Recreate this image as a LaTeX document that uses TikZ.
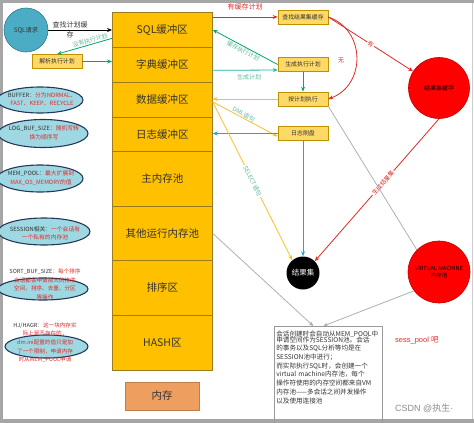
\documentclass[tikz,border=0pt]{standalone}
\usepackage{fontspec}
\setmainfont{Noto Sans CJK SC}
\newfontfamily\latsans{Liberation Sans}
\usetikzlibrary{arrows.meta,shapes.geometric}
\definecolor{memf}{HTML}{FFC000}
\definecolor{memb}{HTML}{9C7A1E}
\definecolor{boxf}{HTML}{FFD966}
\definecolor{boxb}{HTML}{BF9000}
\definecolor{neicun}{HTML}{EE9E5E}
\definecolor{reqc}{HTML}{4BACC6}
\definecolor{ellf}{HTML}{9ED8E2}
\definecolor{ellb}{HTML}{23395B}
\definecolor{rd}{HTML}{E02A2A}
\definecolor{circr}{HTML}{FF0000}
\definecolor{circb}{HTML}{C00000}
\definecolor{grn}{HTML}{00A862}
\definecolor{teal}{HTML}{1FB2A0}
\definecolor{lbl}{HTML}{5FB8A0}
\definecolor{yel}{HTML}{F2C230}
\definecolor{blu}{HTML}{1CA7DC}
\definecolor{gry}{HTML}{B0B0B0}
\definecolor{dk}{HTML}{333333}
\newcommand\myfs[2]{\fontsize{#1}{#2}\selectfont}
\tikzset{
  mem/.style={draw=memb, line width=0.7pt, fill=memf, minimum width=100pt, anchor=north west, inner sep=0pt, font=\myfs{10.5}{12}, text=dk},
  sbox/.style={draw=boxb, line width=0.6pt, fill=boxf, minimum width=50pt, minimum height=14pt, inner sep=0pt, font=\myfs{5.9}{7}, text=dk},
  ell/.style={ellipse, draw=ellb, line width=1.1pt, fill=ellf, inner sep=0pt},
  etxt/.style={align=center, text=rd, inner sep=0pt},
  arr/.style={line width=0.8pt, -{Stealth[length=5pt,width=4pt]}},
  lab/.style={font=\myfs{6}{7}, inner sep=1pt},
}
\begin{document}
\begin{tikzpicture}[x=1pt,y=-1pt]
\useasboundingbox (0,0) rectangle (474,423);
\fill[white] (0,0) rectangle (474,423);
% frame
\fill[gray!70] (0,0) rectangle (474,3);
\fill[gray!70] (0,0) rectangle (3,423);
\fill[gray!70] (0,419) rectangle (474,423);
\draw[gray!40, line width=0.6pt] (472,3) -- (472,419);

% memory column
\node[mem, minimum height=35pt] (sql) at (112,12) {SQL缓冲区};
\node[mem, minimum height=35pt] (dict) at (112,47) {字典缓冲区};
\node[mem, minimum height=35pt] (data) at (112,82) {数据缓冲区};
\node[mem, minimum height=34pt] (log) at (112,117) {日志缓冲区};
\node[mem, minimum height=55pt] (main) at (112,151) {主内存池};
\node[mem, minimum height=54pt] (other) at (112,206) {其他运行内存池};
\node[mem, minimum height=55pt] (sort) at (112,260) {排序区};
\node[mem, minimum height=55pt] (hash) at (112,315) {HASH区};
\node[draw=neicun!80!black, line width=0.4pt, fill=neicun, minimum width=74pt, minimum height=28pt, inner sep=0pt, font=\myfs{10.5}{12}, text=dk] (nc) at (162,396) {内存};

% request
\node[circle, draw=reqc!70!black, line width=0.6pt, fill=reqc, minimum size=44pt, inner sep=0pt, font=\myfs{6.3}{7}, text=dk] (req) at (26,30) {SQL请求};

% small boxes
\node[sbox] (parse) at (57,61.5) {解析执行计划};
\node[sbox] (findres) at (303,17) {查找结果集缓存};
\node[sbox] (gen) at (303,64.5) {生成执行计划};
\node[sbox] (exec) at (303,99) {按计划执行};
\node[sbox] (flush) at (303,133.5) {日志刷盘};

% circles
\node[circle, draw=circb, line width=0.6pt, fill=circr, minimum size=61pt, inner sep=0pt, font=\myfs{6}{7}, text=black] (rescache) at (439,88) {结果集缓存};
\node[circle, draw=circb, line width=0.6pt, fill=circr, minimum size=62pt, inner sep=0pt, align=center, font=\myfs{5.6}{7}, text=black] (vm) at (439,272) {VIRTUAL MACHINE\\内存池};
\node[circle, fill=black, minimum size=33pt, inner sep=0pt, font=\myfs{7.5}{8}, text=white] (res) at (303,273) {结果集};

% text box
\node[draw=gray!80, line width=0.6pt, anchor=north west, minimum width=108pt, minimum height=100pt, text width=104pt, inner sep=2pt, align=left, font=\myfs{6.6}{8.7}, text=dk] (tb) at (274,326) {\vspace*{-3pt}会话创建时会自动从MEM\_POOL中\\申请空间作为SESSION池。会话\\的事务以及SQL分析等均是在\\SESSION池中进行；\\而实际执行SQL时，会创建一个\\virtual machine内存池，每个\\操作符使用的内存空间都来自VM\\内存池——多会话之间并发操作\\以及使用连接池\vspace*{18pt}};

% ellipses
\node[ell, minimum width=86pt, minimum height=26pt] (e1) at (40,100) {};
\node[ell, minimum width=90pt, minimum height=28pt] (e2) at (43,133.5) {};
\node[ell, minimum width=86pt, minimum height=27pt] (e3) at (40,178.5) {};
\node[ell, minimum width=92pt, minimum height=27pt] (e4) at (44,231.5) {};
\node[ell, minimum width=90pt, minimum height=22pt] (e5) at (43,289) {};
\node[ell, minimum width=83pt, minimum height=23pt] (e6) at (46.5,346.5) {};
\node[etxt, font=\myfs{5.8}{8.5}] (t1) at (42,99) {\textcolor{dk}{BUFFER：}分为NORMAL、\\FAST、KEEP、RECYCLE};
\node[etxt, font=\myfs{5.8}{8.5}] (t2) at (44,133) {\textcolor{dk}{LOG\_BUF\_SIZE：}随机写转\\换为顺序写};
\node[etxt, font=\myfs{5.8}{9.5}] (t3) at (41,178) {\textcolor{dk}{MEM\_POOL：}最大扩展到\\MAX\_OS\_MEMORY的值};
\node[etxt, font=\myfs{5.8}{8}] (t4) at (45,233) {\textcolor{dk}{SESSION相关：}一个会话有\\一个私有的内存池};
\node[etxt, font=\myfs{5.6}{8.5}] (t5) at (45,284.5) {\textcolor{dk}{SORT\_BUF\_SIZE：}每个排序\\会话都会申请那大的排序\\空间，排序、去重、分区\\等操作};
\node[etxt, font=\myfs{5.6}{8.7}] (t6) at (45,342.5) {\textcolor{dk}{HJ/HAGR：}这一块内存实\\际上是不存在的，\\dm.ini配置的值只是加\\了一个限制，申请内存\\时从MEM\_POOL申请};

% connectors
\draw[arr, black] (req) -- (sql.west |- req);
\node[lab, font=\myfs{7}{10}, align=center, text=dk] (l0) at (70,30) {查找计划缓\\存};
\draw[arr, grn] ([yshift=-8.5pt]sql.west) -- node[lab, sloped, above, text=lbl, pos=0.38] (l1) {没有执行计划} (parse.north);
\draw[arr, grn] (parse) -- (parse -| dict.west);

\draw[arr, rd] (sql.north east |- findres.west) -- (findres.west);
\node[lab, font=\myfs{7}{8}, text=rd] (l2) at (245,7) {有缓存计划};
\draw[arr, grn] (gen.west) -- node[lab, sloped, below, text=lbl] (l3) {缓存执行计划} (sql.east);
\draw[arr, teal] ([yshift=-5.5pt]dict.east) -- ([yshift=-5.5pt]gen.west);
\node[lab, text=lbl] (l4) at (249,77) {生成计划};
\draw[arr, grn] (gen) -- (exec);

\draw[arr, yel] (exec.west) -- (exec.west -| data.east);
\draw[arr, yel] ([yshift=-2pt]data.east) -- node[lab, sloped, above, inner sep=0.5pt, text=lbl, pos=0.45] (l5) {DML语句} ([yshift=-3pt]flush.west);
\draw[arr, blu] (flush.west) -- (flush.west -| log.east);
\draw[arr, blu] (flush) -- (res);
\draw[arr, yel] ([yshift=-2pt]data.east) -- node[lab, sloped, fill=white, text=lbl, pos=0.5] (l6) {SELECT语句} (res.130);

\draw[arr, rd] (findres.east) .. controls (366,30) and (366,85) .. (exec.east);
\node[lab, text=rd] (l7) at (341,60) {无};
\draw[arr, rd] (findres.east) -- node[lab, fill=white, sloped, text=rd] (l8) {有} (rescache);
\draw[arr, rd] (rescache.south) -- node[lab, fill=white, sloped, text=rd, pos=0.45] (l9) {生成结果集} (res.45);

\draw[gry, line width=0.8pt] (exec.south east) -- (vm.north west);
\draw[gry, line width=0.8pt, -{Stealth[length=4.5pt,width=4pt,fill=black]}] (vm.217) -- ([xshift=-5pt]tb.north);
\draw[gry, line width=0.8pt, -{Stealth[length=4.5pt,width=4pt,fill=black]}] (other.east) -- ([xshift=-15pt]tb.north);

\node[font=\latsans\myfs{7.5}{9}, text=rd, anchor=west, inner sep=0pt] (sp) at (395,340) {sess\_pool \rmfamily 吧};
\node[font=\latsans\myfs{9}{10}, text=gray!90, anchor=west, inner sep=0pt] (wm) at (395,408) {CSDN @\rmfamily 执生\latsans ·};
\end{tikzpicture}
\end{document}
